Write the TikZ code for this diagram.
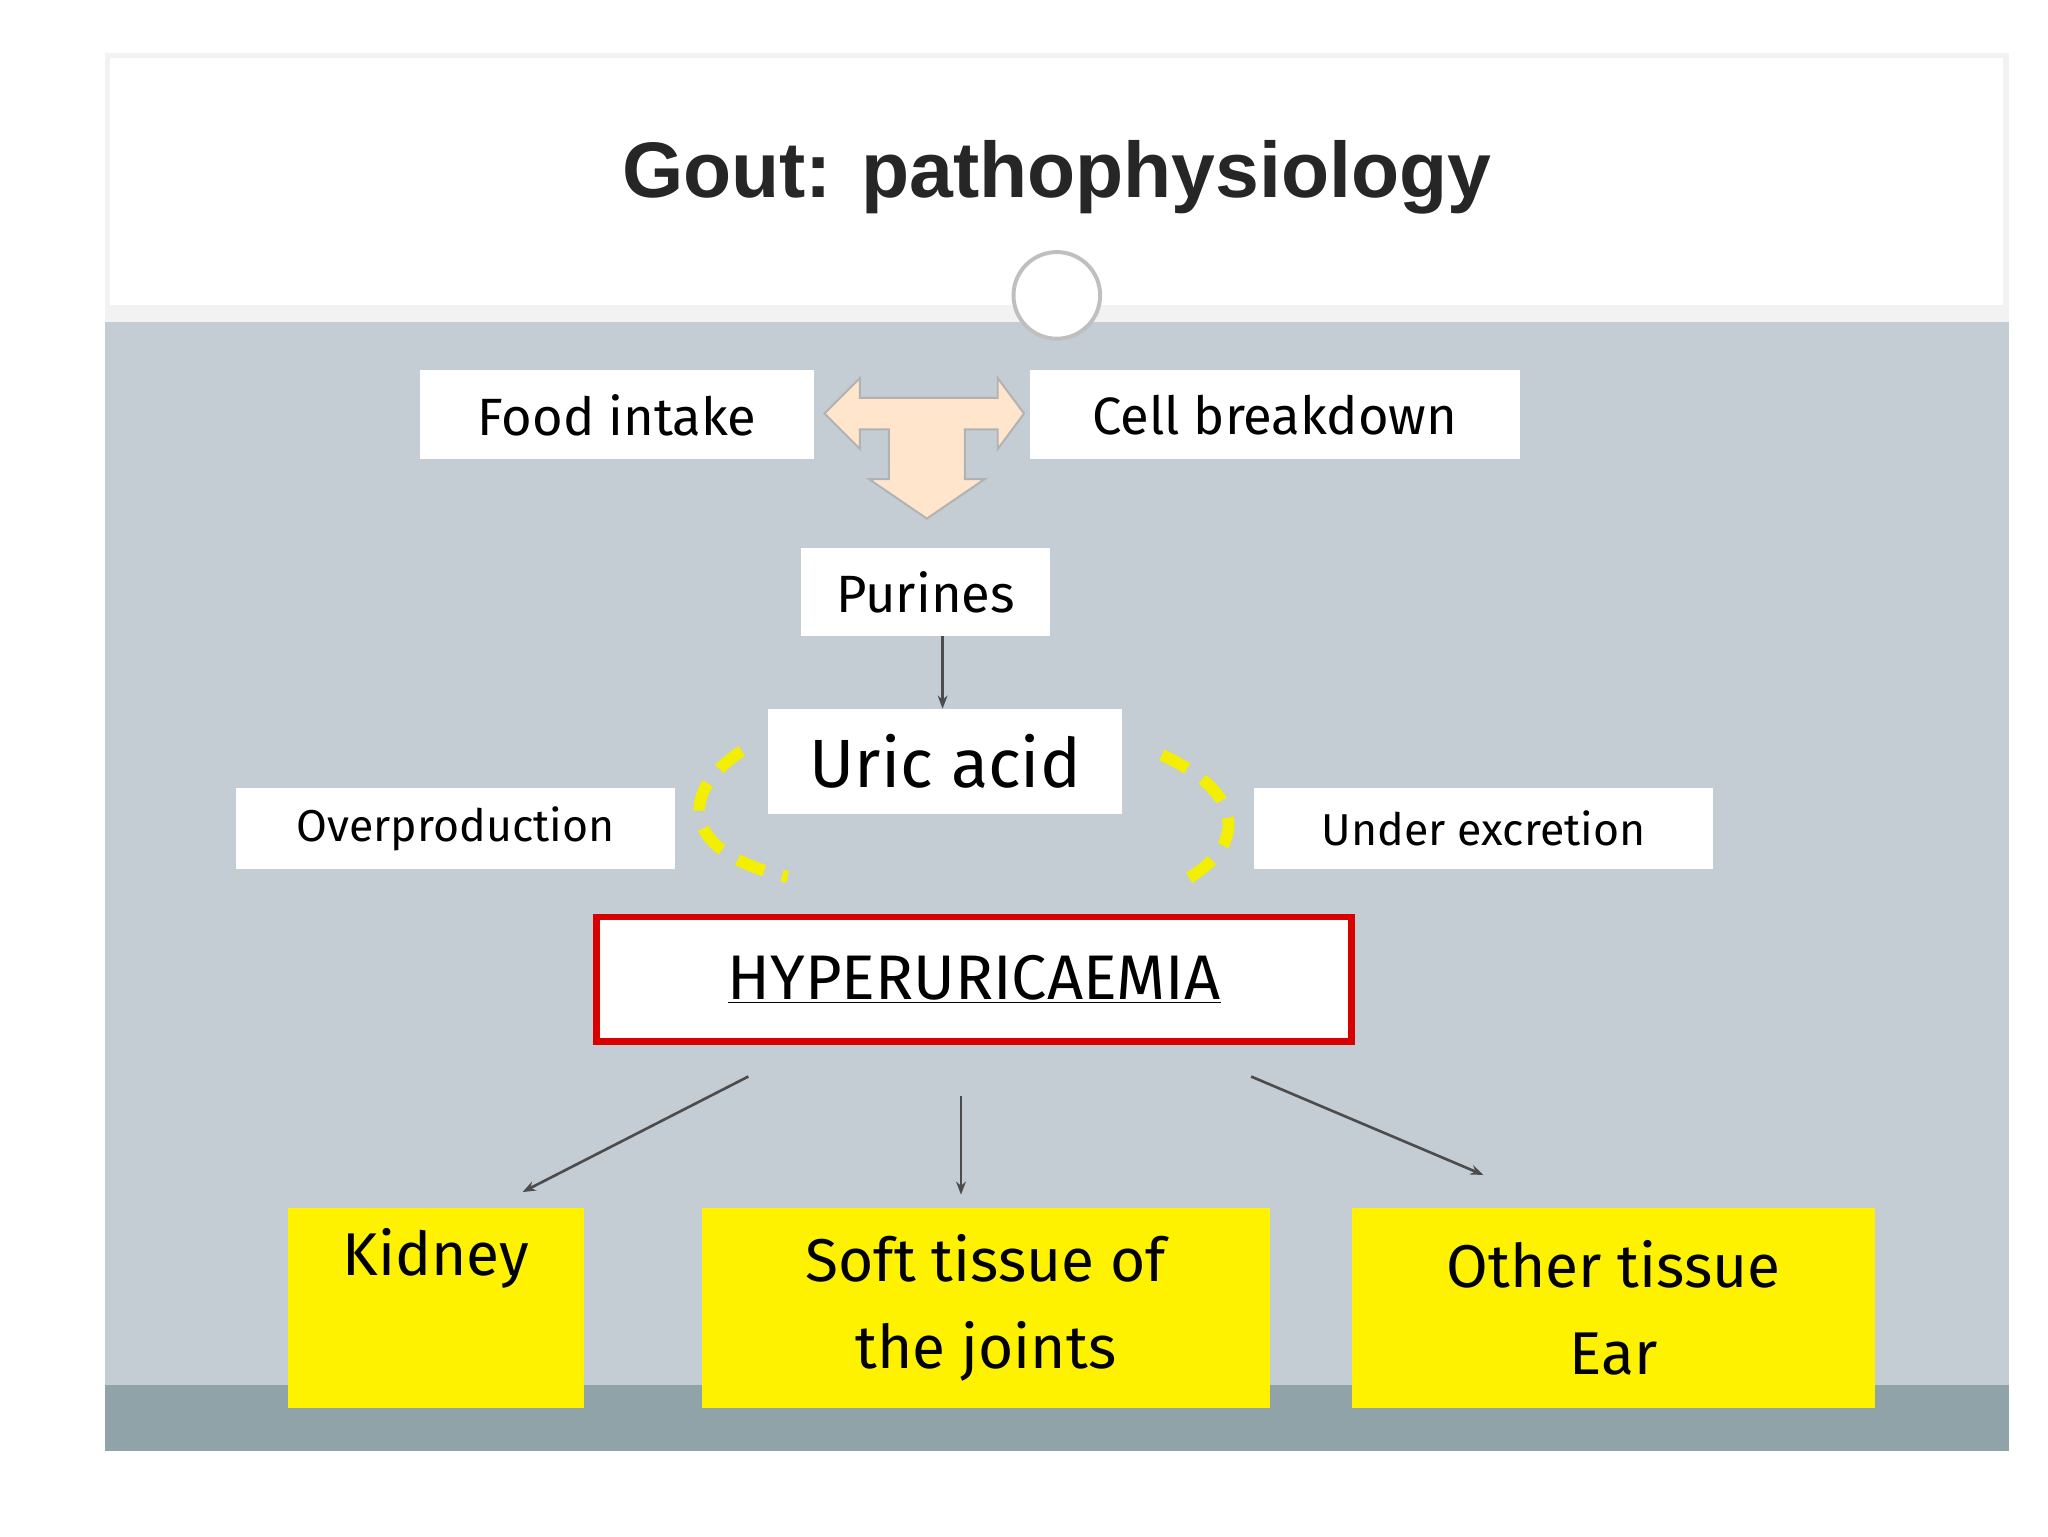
\documentclass[tikz,border=0pt]{standalone}
\usetikzlibrary{arrows.meta}
\usepackage{fontspec}
\setmainfont{Fira Sans}
\newfontfamily\titlefont{Liberation Sans}
\definecolor{bodyc}{HTML}{C4CCD4}
\definecolor{bandc}{HTML}{8FA3A8}
\begin{document}
\begin{tikzpicture}[x=1pt,y=-1pt,
  wbox/.style={fill=white,inner sep=0pt,font=\fontsize{40}{44}\selectfont},
  ybox/.style={fill=yellow,inner sep=0pt,align=center,font=\fontsize{46}{66}\selectfont},
  arr/.style={draw=black!70,line width=2pt,-{Stealth[length=10pt,open]}},
  cyc/.style={draw=yellow!80!lime,line width=9pt,dash pattern=on 22pt off 14pt}]
\useasboundingbox (0,0) rectangle (1560,1170);
\fill[white] (0,0) rectangle (1560,1170);
\fill[gray!10] (80,40) rectangle (1530,240);
\fill[white] (84,44) rectangle (1526,232);
\fill[black!5!white] (80,240) rectangle (1530,1105);
\fill[bodyc] (80,245) rectangle (1530,1060);
\fill[bandc] (80,1055) rectangle (1530,1105);
\node[font=\titlefont\bfseries\fontsize{60}{66}\selectfont,text=black!85] (title) at (805,135) {Gout: pathophysiology};
\draw[gray!50,line width=3pt,fill=white] (805,225) circle (33);
\node[wbox,minimum width=300,minimum height=68] (food) at (470,316) {Food intake};
\node[wbox,minimum width=373,minimum height=68] (cell) at (971,316) {Cell breakdown};
\fill[orange!20!white,draw=gray!60,line width=1.5pt] (628,315)--(655,288)--(655,303)--(760,303)--(760,288)--(780,315)--(760,342)--(760,327)--(735,327)--(735,365)--(750,365)--(706,395)--(662,365)--(677,365)--(677,327)--(655,327)--(655,342)--cycle;
\node[wbox,minimum width=190,minimum height=67] (pur) at (705,451) {Purines};
\node[wbox,minimum width=270,minimum height=80,font=\fontsize{52}{56}\selectfont] (uric) at (720,580) {Uric acid};
\draw[arr] (pur.south -| 718,0) -- (uric.north -| 718,0);
\node[wbox,minimum width=335,minimum height=62,font=\fontsize{34}{40}\selectfont] (over) at (347,631) {Overproduction};
\node[wbox,minimum width=350,minimum height=62,font=\fontsize{34}{40}\selectfont] (under) at (1130,631) {Under excretion};
\draw[cyc] (565,572) .. controls (515,605) and (520,650) .. (600,668);
\draw[cyc] (885,575) .. controls (950,605) and (950,645) .. (900,672);
\node[draw=red!85!black,line width=5pt,fill=white,minimum width=575,minimum height=95,font=\fontsize{48}{52}\selectfont] (hyp) at (742,746) {\underline{HYPERURICAEMIA}};
\node[ybox,minimum width=225,minimum height=152,anchor=north] (kid) at (332,920) {Kidney\\[0pt]\strut};
\node[ybox,minimum width=433,minimum height=152,anchor=north] (soft) at (751,920) {Soft tissue of\\the joints};
\node[ybox,minimum width=398,minimum height=152,anchor=north] (oth) at (1229,920) {Other tissue\\Ear};
\draw[arr] (570,820) -- (398,908);
\draw[arr] (732,835) -- (732,910);
\draw[arr] (953,820) -- (1130,895);
\end{tikzpicture}
\end{document}
